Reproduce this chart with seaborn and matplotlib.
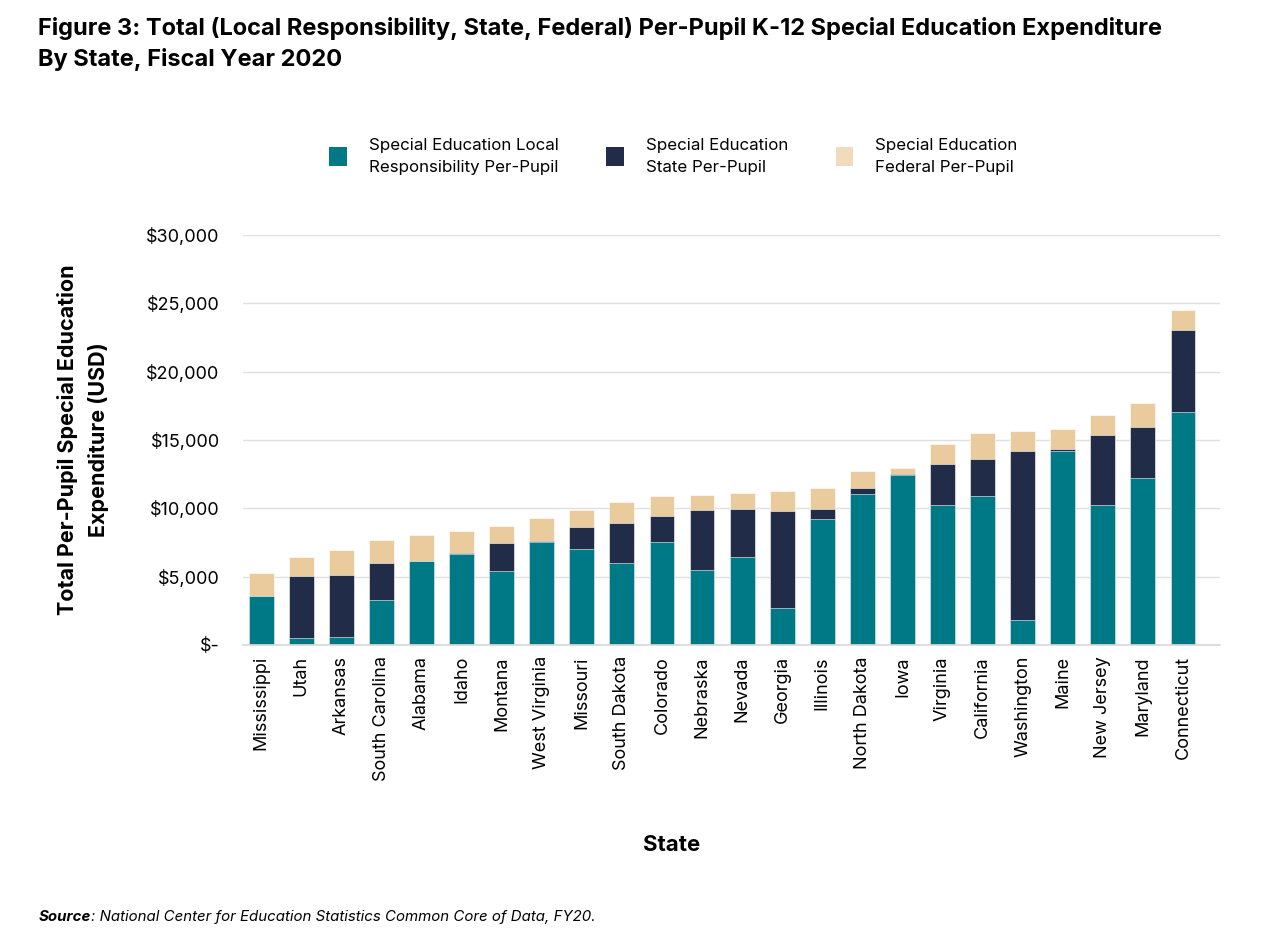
import numpy as np
import pandas as pd
import matplotlib
matplotlib.use("Agg")
import matplotlib.pyplot as plt
import seaborn as sns
from matplotlib.patches import Patch
from matplotlib.ticker import FuncFormatter

# -----------------------------
# DATA
# -----------------------------
states = ["Mississippi", "Utah", "Arkansas", "South Carolina", "Alabama", "Idaho",
          "Montana", "West Virginia", "Missouri", "South Dakota", "Colorado", "Nebraska",
          "Nevada", "Georgia", "Illinois", "North Dakota", "Iowa", "Virginia",
          "California", "Washington", "Maine", "New Jersey", "Maryland", "Connecticut"]

local_pp = [3550, 515, 590, 3260, 6130, 6620, 5440, 7500, 7030, 6030, 7550, 5515,
            6400, 2670, 9190, 11030, 12450, 10245, 10930, 1810, 14215, 10245, 12230, 17010]
state_pp = [50, 4535, 4510, 2770, 20, 95, 1990, 120, 1570, 2890, 1860, 4335,
            3575, 7110, 785, 470, 50, 2965, 2650, 12360, 125, 5145, 3700, 6005]
federal_pp = [1670, 1370, 1860, 1670, 1860, 1595, 1295, 1670, 1250, 1545, 1450, 1110,
              1175, 1470, 1525, 1220, 440, 1470, 1910, 1490, 1445, 1450, 1770, 1470]

labels = ["Special Education Local\nResponsibility Per-Pupil",
          "Special Education\nState Per-Pupil",
          "Special Education\nFederal Per-Pupil"]
colors = ["#007987", "#212d48", "#e9cb9d"]

df = pd.DataFrame({"State": states, "Local": local_pp,
                   "StateAid": state_pp, "Federal": federal_pp})
df["LocalState"] = df["Local"] + df["StateAid"]
df["Total"] = df["LocalState"] + df["Federal"]

# -----------------------------
# PLOT
# -----------------------------
sns.set_theme(style="white")
plt.rcParams["font.family"] = ["Inter", "DejaVu Sans"]
plt.rcParams["text.color"] = "black"
plt.rcParams["axes.labelcolor"] = "black"
plt.rcParams["xtick.color"] = "black"
plt.rcParams["ytick.color"] = "black"

fig = plt.figure(figsize=(12.8, 9.36), dpi=100)
ax = fig.add_axes([0.19, 0.311, 0.763, 0.438])

# stacked bars: draw cumulative heights from tallest to shortest
for col, c in zip(["Total", "LocalState", "Local"], colors[::-1]):
    sns.barplot(data=df, x="State", y=col, color=c, width=0.62,
                saturation=1, ax=ax, edgecolor="white", linewidth=0.4)

ax.set_ylim(0, 30000)
ax.set_xlim(-0.45, len(states) - 0.08)
ax.set_yticks(np.arange(0, 30001, 5000))
ax.yaxis.set_major_formatter(FuncFormatter(lambda v, p: "$-" if v == 0 else f"${v:,.0f}"))
ax.grid(axis="y", color="#e0e0e0", linewidth=1)
ax.set_axisbelow(True)
for s in ["top", "right", "left"]:
    ax.spines[s].set_visible(False)
ax.spines["bottom"].set_color("#d9d9d9")

ax.tick_params(axis="x", labelrotation=90, labelsize=13, pad=8, length=0)
ax.tick_params(axis="y", labelsize=13, pad=17, length=0)

ax.set_xlabel("")
ax.set_ylabel("Total Per-Pupil Special Education\nExpenditure (USD)",
              fontsize=15.5, fontweight="bold", labelpad=27, linespacing=1.55)
fig.text(0.525, 0.097, "State", fontsize=16, fontweight="bold", ha="center", va="center")

# legend
handles = [Patch(facecolor=c, edgecolor="none") for c in colors]
handles[2] = Patch(facecolor="#f0dcbc", edgecolor="none")
leg = fig.legend(handles, labels, loc="center", bbox_to_anchor=(0.526, 0.833), ncol=3,
                 frameon=False, fontsize=12.2, handlelength=1.05, handleheight=1.4,
                 columnspacing=2.8, handletextpad=1.3, labelspacing=0.5)
for t in leg.get_texts():
    t.set_linespacing(1.6)

# title + source
fig.text(0.03, 0.982, "Figure 3: Total (Local Responsibility, State, Federal) Per-Pupil K-12 "
         "Special Education Expenditure\nBy State, Fiscal Year 2020",
         fontsize=17, fontweight="bold", va="top", ha="left", linespacing=1.45)
src = fig.text(0.03, 0.016, "Source", fontsize=10.8, fontweight="bold", style="italic", ha="left")
fig.canvas.draw()
bb = src.get_window_extent().transformed(fig.transFigure.inverted())
fig.text(bb.x1, 0.016, ": National Center for Education Statistics Common Core of Data, FY20.",
         fontsize=10.8, style="italic", ha="left")

plt.savefig("out.png", dpi=100)
plt.close()
